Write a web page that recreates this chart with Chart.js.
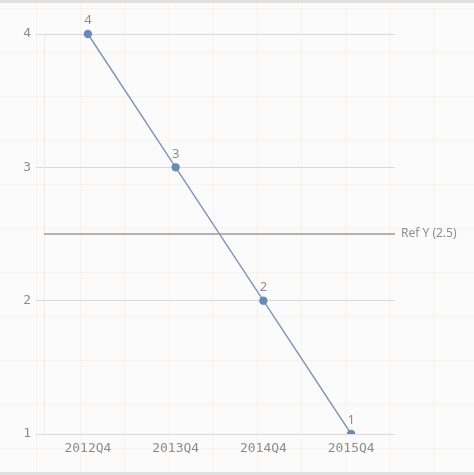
<!DOCTYPE html>
<html>
<head>
<meta charset="utf-8">
<script src="https://cdn.jsdelivr.net/npm/chart.js@4/dist/chart.umd.min.js"></script>
<style>
    html, body {
        margin: 0;
        padding: 0;
    }
    body {
        width: 474px;
        height: 475px;
        position: relative;
        overflow: hidden;
        background-color: #fbfbfb;
        background-image:
            linear-gradient(to right, rgba(236, 200, 175, 0.18) 1px, transparent 1px),
            linear-gradient(to bottom, rgba(236, 200, 175, 0.18) 1px, transparent 1px);
        background-size: 44.2px 44px;
        background-position: 36px 8px;
    }
    .band-top, .band-bottom {
        position: absolute;
        left: 0;
        width: 474px;
        background: #e0e0e0;
    }
    .band-top { top: 0; height: 3px; }
    .band-bottom { top: 472px; height: 3px; }
    canvas {
        position: absolute;
        left: 0;
        top: 0;
    }
</style>
</head>
<body>
<div class="band-top"></div>
<canvas id="lineChart" width="474" height="475"></canvas>
<div class="band-bottom"></div>
<script>
// Chart data
const quarters = ['2012Q4', '2013Q4', '2014Q4', '2015Q4'];
const values = [4, 3, 2, 1];
const yTicks = [1, 2, 3, 4];
const refValue = 2.5;
const refLabel = 'Ref Y (2.5)';

// Reference line across the whole plot + value labels over points
const refLinePlugin = {
    id: 'refLine',
    afterDatasetsDraw(chart) {
        const ctx = chart.ctx;
        const area = chart.chartArea;
        const y = chart.scales.y.getPixelForValue(refValue);
        ctx.save();
        ctx.strokeStyle = '#9a9a9a';
        ctx.lineWidth = 1.5;
        ctx.beginPath();
        ctx.moveTo(area.left, y);
        ctx.lineTo(area.right, y);
        ctx.stroke();
        ctx.fillStyle = '#8e8e8e';
        ctx.font = '12px "Noto Sans", sans-serif';
        ctx.textAlign = 'left';
        ctx.textBaseline = 'middle';
        ctx.fillText(refLabel, area.right + 6, y);

        // point labels
        const meta = chart.getDatasetMeta(0);
        ctx.font = '13px "Noto Sans", sans-serif';
        ctx.textAlign = 'center';
        ctx.textBaseline = 'bottom';
        meta.data.forEach((pt, i) => {
            ctx.fillText(String(values[i]), pt.x, pt.y - 7);
        });
        ctx.restore();
    }
};

document.addEventListener('DOMContentLoaded', function() {
    const ctx = document.getElementById('lineChart').getContext('2d');
    new Chart(ctx, {
        type: 'line',
        data: {
            labels: quarters,
            datasets: [{
                data: values,
                borderColor: '#7d94b6',
                borderWidth: 1.4,
                pointBackgroundColor: '#6a8ab6',
                pointBorderColor: '#6a8ab6',
                pointRadius: 3.5,
                tension: 0,
                clip: { left: 10, right: 10, top: 10, bottom: 0 }
            }]
        },
        options: {
            responsive: false,
            animation: false,
            devicePixelRatio: 1,
            layout: {
                padding: { top: 34, right: 79, left: 0, bottom: 0 }
            },
            plugins: {
                legend: { display: false },
                tooltip: { enabled: false }
            },
            scales: {
                x: {
                    offset: true,
                    grid: {
                        display: false,
                        drawTicks: false
                    },
                    border: { display: false },
                    ticks: {
                        color: '#8c8c8c',
                        padding: 7,
                        font: { family: '"DejaVu Sans Mono", monospace', size: 13 }
                    },
                    afterFit(scale) {
                        scale.height = 41;
                    }
                },
                y: {
                    min: yTicks[0],
                    max: yTicks[yTicks.length - 1],
                    afterBuildTicks(scale) {
                        scale.ticks = yTicks.map(v => ({ value: v }));
                    },
                    grid: {
                        color: '#dadada',
                        lineWidth: 1,
                        tickLength: 8
                    },
                    border: { display: true, color: '#ececec' },
                    ticks: {
                        color: '#8c8c8c',
                        padding: 5,
                        font: { family: '"DejaVu Sans Mono", monospace', size: 13 }
                    },
                    afterFit(scale) {
                        scale.width = 44;
                    }
                }
            }
        },
        plugins: [refLinePlugin]
    });
});
</script>
</body>
</html>
